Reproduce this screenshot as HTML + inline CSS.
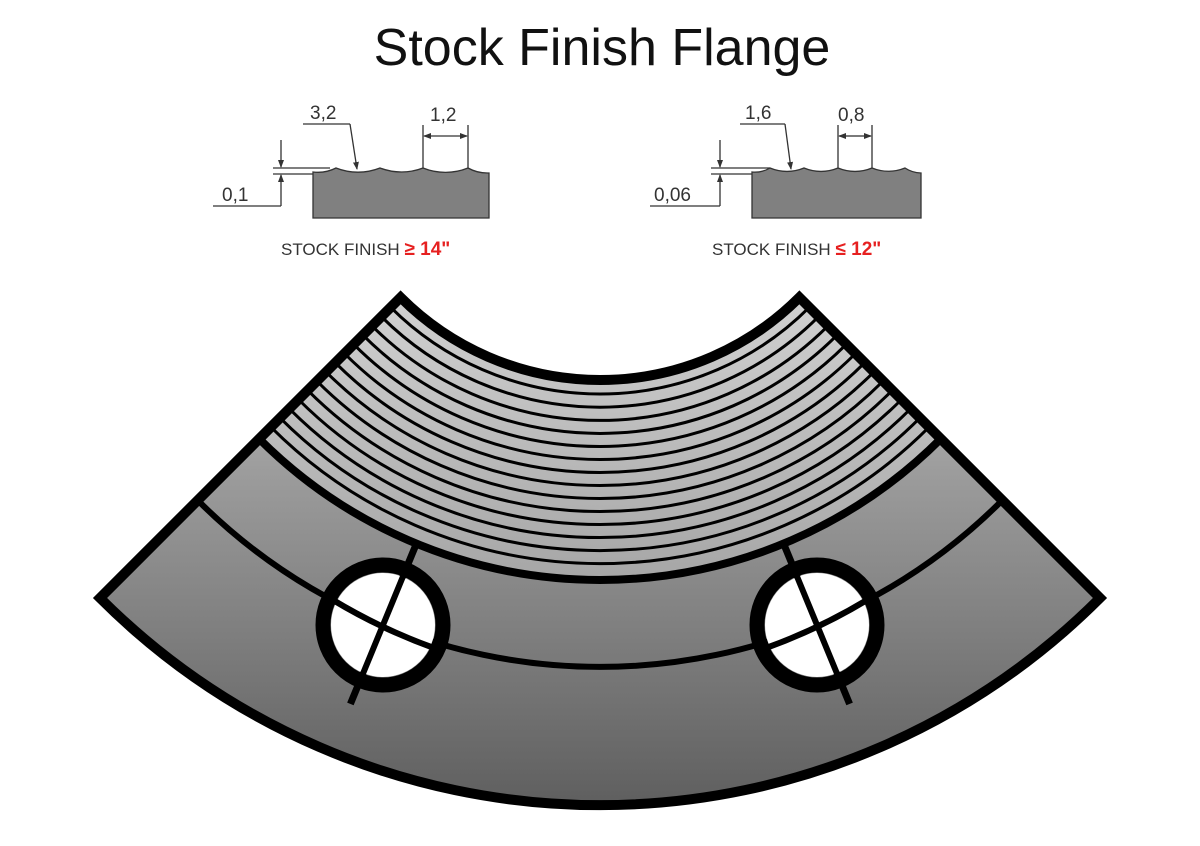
<!DOCTYPE html>
<html><head><meta charset="utf-8"><style>
html,body{margin:0;padding:0;background:#fff;}
svg{display:block;}
</style></head><body>
<svg width="1200" height="846" viewBox="0 0 1200 846" xmlns="http://www.w3.org/2000/svg" font-family="Liberation Sans, Arial, sans-serif">
<defs>
<linearGradient id="g" x1="0" y1="290" x2="0" y2="810" gradientUnits="userSpaceOnUse">
<stop offset="0" stop-color="#c8c8c8"/>
<stop offset="0.35" stop-color="#9c9c9c"/>
<stop offset="1" stop-color="#5e5e5e"/>
</linearGradient>
<linearGradient id="g2" x1="0" y1="290" x2="0" y2="580" gradientUnits="userSpaceOnUse">
<stop offset="0" stop-color="#d2d2d2"/>
<stop offset="1" stop-color="#a6a6a6"/>
</linearGradient>
<marker id="a" markerWidth="8" markerHeight="8" refX="7" refY="4" orient="auto" markerUnits="userSpaceOnUse"><path d="M0,1 L8,4 L0,7 Z" fill="#333"/></marker>
</defs>
<text x="602" y="65" font-size="52" text-anchor="middle" fill="#111">Stock Finish Flange</text>

<!-- left detail -->
<g stroke="#333" stroke-width="1.3" fill="none">
<path d="M313 218 L313 172 A40 40 0 0 0 336 168 A60 60 0 0 0 380 168 A60 60 0 0 0 423 168 A60 60 0 0 0 468 168 A40 40 0 0 0 489 173 L489 218 Z" fill="#808080"/>
<line x1="303" y1="124" x2="350" y2="124"/>
<line x1="350" y1="124" x2="357" y2="169" marker-end="url(#a)"/>
<line x1="423" y1="125" x2="423" y2="168"/>
<line x1="468" y1="125" x2="468" y2="168"/>
<line x1="445" y1="136" x2="424" y2="136" marker-end="url(#a)"/>
<line x1="445" y1="136" x2="467" y2="136" marker-end="url(#a)"/>
<line x1="273" y1="168" x2="330" y2="168"/>
<line x1="273" y1="174" x2="313" y2="174"/>
<line x1="281" y1="140" x2="281" y2="167" marker-end="url(#a)"/>
<line x1="281" y1="206" x2="281" y2="175" marker-end="url(#a)"/>
<line x1="281" y1="206" x2="213" y2="206"/>
</g>
<g font-size="19" fill="#333">
<text x="310" y="119">3,2</text>
<text x="430" y="121">1,2</text>
<text x="222" y="201">0,1</text>
</g>
<text x="281" y="255" font-size="17" fill="#333">STOCK FINISH <tspan fill="#e62020" font-weight="bold" font-size="19">≥ 14"</tspan></text>

<!-- right detail -->
<g stroke="#333" stroke-width="1.3" fill="none">
<path d="M752 218 L752 172 A30 30 0 0 0 770 168 A44 44 0 0 0 804 168 A44 44 0 0 0 838 168 A44 44 0 0 0 872 168 A44 44 0 0 0 905 168 A30 30 0 0 0 921 173 L921 218 Z" fill="#808080"/>
<line x1="740" y1="124" x2="785" y2="124"/>
<line x1="785" y1="124" x2="791" y2="169" marker-end="url(#a)"/>
<line x1="838" y1="125" x2="838" y2="168"/>
<line x1="872" y1="125" x2="872" y2="168"/>
<line x1="855" y1="136" x2="839" y2="136" marker-end="url(#a)"/>
<line x1="855" y1="136" x2="871" y2="136" marker-end="url(#a)"/>
<line x1="711" y1="168" x2="770" y2="168"/>
<line x1="711" y1="174" x2="752" y2="174"/>
<line x1="720" y1="140" x2="720" y2="167" marker-end="url(#a)"/>
<line x1="720" y1="206" x2="720" y2="175" marker-end="url(#a)"/>
<line x1="720" y1="206" x2="650" y2="206"/>
</g>
<g font-size="19" fill="#333">
<text x="745" y="119">1,6</text>
<text x="838" y="121">0,8</text>
<text x="654" y="201">0,06</text>
</g>
<text x="712" y="255" font-size="17" fill="#333">STOCK FINISH <tspan fill="#e62020" font-weight="bold" font-size="19">≤ 12"</tspan></text>

<!-- flange -->
<path d="M400.6 297.4 A282 282 0 0 0 799.4 297.4 L1100 598 A707 707 0 0 1 100 598 Z" fill="url(#g)"/>
<path d="M400.6 297.4 A282 282 0 0 0 799.4 297.4 L940.8 438.8 A482 482 0 0 1 259.2 438.8 Z" fill="url(#g2)"/>
<g fill="none" stroke="#000">
<g stroke-width="3">
<path d="M390.7 307.3 A296 296 0 0 0 809.3 307.3"/>
<path d="M381.4 316.6 A309 309 0 0 0 818.6 316.6"/>
<path d="M372.1 325.9 A322 322 0 0 0 827.9 325.9"/>
<path d="M362.9 335.1 A335 335 0 0 0 837.1 335.1"/>
<path d="M353.7 344.3 A348 348 0 0 0 846.3 344.3"/>
<path d="M344.5 353.5 A361 361 0 0 0 855.5 353.5"/>
<path d="M335.3 362.7 A374 374 0 0 0 864.7 362.7"/>
<path d="M326.1 371.9 A387 387 0 0 0 873.9 371.9"/>
<path d="M316.9 381.1 A400 400 0 0 0 883.1 381.1"/>
<path d="M307.7 390.3 A413 413 0 0 0 892.3 390.3"/>
<path d="M298.5 399.5 A426 426 0 0 0 901.5 399.5"/>
<path d="M289.3 408.7 A439 439 0 0 0 910.7 408.7"/>
<path d="M280.1 417.9 A452 452 0 0 0 919.9 417.9"/>
<path d="M270.9 427.1 A465 465 0 0 0 929.1 427.1"/>
</g>
<path d="M259.2 438.8 A482 482 0 0 0 940.8 438.8" stroke-width="8"/>
<path d="M197.7 500.3 A569 569 0 0 0 1002.3 500.3" stroke-width="6"/>
<line x1="415.2" y1="546.6" x2="350.4" y2="703.9" stroke-width="7"/>
<line x1="784.8" y1="546.6" x2="849.6" y2="703.9" stroke-width="7"/>
</g>
<g fill="none" stroke="#000">
<circle cx="383" cy="625" r="60" stroke-width="15"/>
<circle cx="817" cy="625" r="60" stroke-width="15"/>
</g>
<g fill="#fff">
<circle cx="383" cy="625" r="52"/>
<circle cx="817" cy="625" r="52"/>
</g>
<g fill="none" stroke="#000" stroke-width="6">
<path d="M333 600 A569 569 0 0 0 434 648"/>
<path d="M766 648 A569 569 0 0 0 867 600"/>
<line x1="404" y1="574" x2="362" y2="676"/>
<line x1="796" y1="574" x2="838" y2="676"/>
</g>
<path d="M400.6 297.4 A282 282 0 0 0 799.4 297.4 L1100 598 A707 707 0 0 1 100 598 Z" fill="none" stroke="#000" stroke-width="10" stroke-linejoin="miter"/>
</svg>
</body></html>
